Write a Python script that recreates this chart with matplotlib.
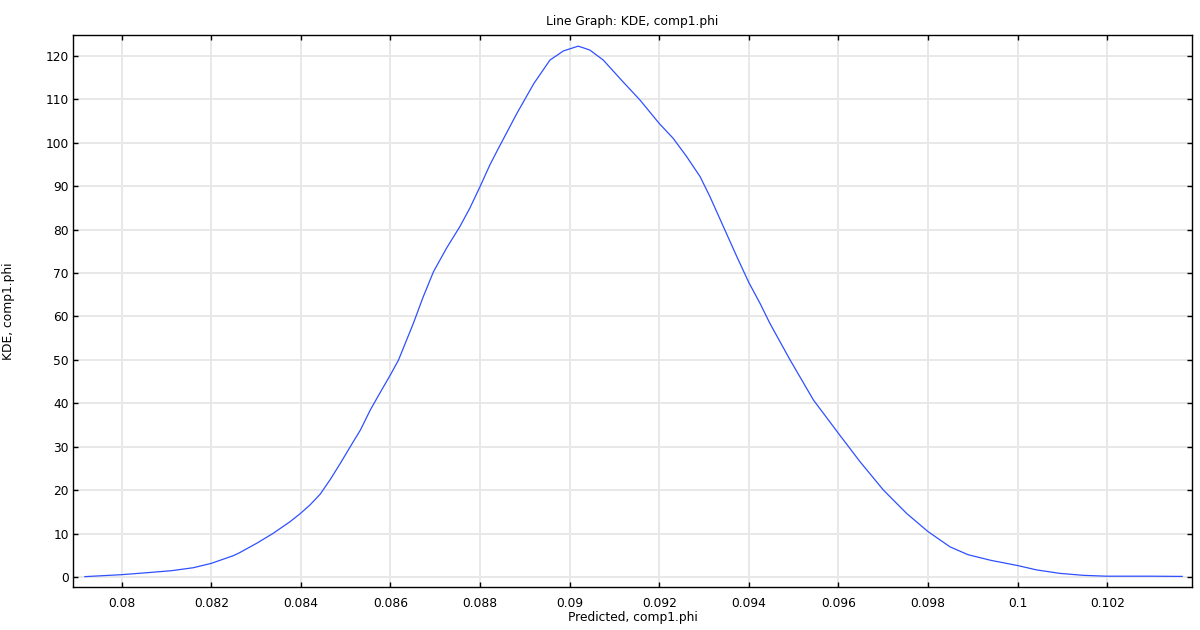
import matplotlib
matplotlib.use("Agg")
import matplotlib.pyplot as plt

# KDE curve
phi = [0.07918, 0.0800, 0.0805, 0.0811, 0.0816, 0.0820, 0.0825, 0.08264, 0.08301,
       0.08338, 0.08376, 0.08398, 0.0842, 0.08443, 0.08465, 0.08488, 0.0851, 0.08533,
       0.08555, 0.08577, 0.0860, 0.08618, 0.08651, 0.08673, 0.08696, 0.08725, 0.08755,
       0.08777, 0.0880, 0.08822, 0.08839, 0.08882, 0.08920, 0.08956, 0.08986, 0.09019,
       0.09031, 0.09045, 0.09075, 0.09119, 0.09157, 0.0920, 0.09231, 0.09261, 0.09291,
       0.09313, 0.09343, 0.09373, 0.0940, 0.09425, 0.09447, 0.09492, 0.09544, 0.0960,
       0.09648, 0.0970, 0.09752, 0.0980, 0.09849, 0.09889, 0.09940, 0.1000, 0.10042,
       0.10094, 0.10146, 0.10198, 0.10295, 0.10367]
kde = [0.15, 0.6, 1.0, 1.5, 2.2, 3.2, 5.0, 5.7, 7.8,
       10.1, 12.8, 14.6, 16.6, 19.1, 22.4, 26.2, 30.0, 33.9,
       38.5, 42.5, 46.6, 50.0, 58.4, 64.5, 70.3, 75.7, 80.7,
       84.9, 89.9, 94.9, 98.3, 106.7, 113.6, 119.0, 121.1, 122.2,
       121.8, 121.3, 119.0, 114.0, 109.8, 104.4, 101.0, 96.8, 92.2,
       87.6, 80.7, 73.8, 67.8, 63.0, 58.4, 50.0, 40.8, 33.1,
       26.6, 20.1, 14.7, 10.5, 7.0, 5.2, 3.9, 2.7, 1.7,
       0.9, 0.45, 0.25, 0.25, 0.2]

xticks = [0.080, 0.082, 0.084, 0.086, 0.088, 0.090, 0.092, 0.094, 0.096, 0.098, 0.100, 0.102]
xticklabels = ["0.08", "0.082", "0.084", "0.086", "0.088", "0.09", "0.092", "0.094",
               "0.096", "0.098", "0.1", "0.102"]
yticks = [0, 10, 20, 30, 40, 50, 60, 70, 80, 90, 100, 110, 120]

fig = plt.figure(figsize=(12, 6.3), dpi=100)
ax = fig.add_axes([0.0608, 0.0683, 0.9325, 0.8761])

ax.plot(phi, kde, color="#2f50ff", linewidth=0.9)

ax.set_xlim(0.078913, 0.10389)
ax.set_ylim(-2.23, 124.76)
ax.set_xticks(xticks)
ax.set_xticklabels(xticklabels)
ax.set_yticks(yticks)

ax.grid(True, color="#e8e8e8", linewidth=1.4)
ax.set_axisbelow(True)
ax.tick_params(direction="in", length=3.5, width=1, top=True, right=True,
               labelsize=8.8, colors="black")
ax.tick_params(axis="x", pad=7)
ax.tick_params(axis="y", pad=3)
for s in ax.spines.values():
    s.set_linewidth(1.0)

ax.set_title("Line Graph: KDE, comp1.phi", fontsize=8.8, pad=7)
ax.set_xlabel("Predicted, comp1.phi", fontsize=8.8)
ax.set_ylabel("KDE, comp1.phi", fontsize=8.8)
ax.xaxis.set_label_coords(0.5, -0.0435)
ax.yaxis.set_label_coords(-0.0515, 0.5)

fig.savefig("out.png", dpi=100)
